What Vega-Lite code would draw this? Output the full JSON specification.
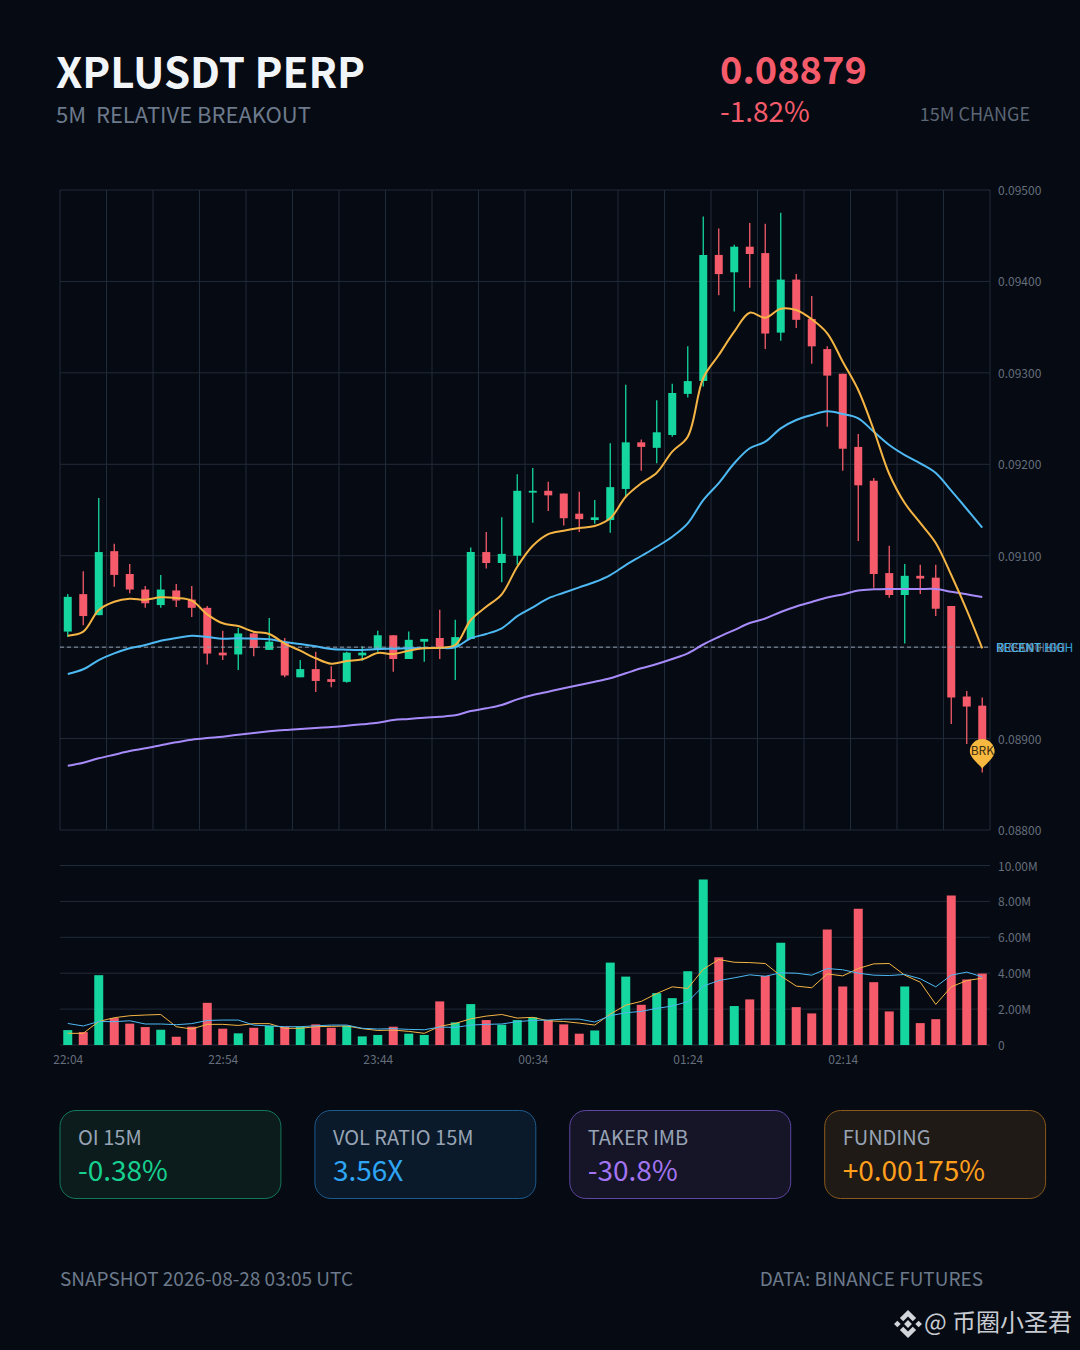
{
  "$schema": "https://vega.github.io/schema/vega-lite/v6.json",
  "description": "XPLUSDT perp 5m candles with moving averages, volume panel and metric cards",
  "width": 1080,
  "height": 1350,
  "autosize": "none",
  "padding": 0,
  "background": "#060a12",
  "config": {
    "view": {"stroke": null},
    "font": "Noto Sans CJK SC",
    "axis": {"labelFont": "Noto Sans CJK SC"},
    "text": {"font": "Noto Sans CJK SC"}
  },
  "datasets": {
    "bars": [
      {"time":"2026-08-27T22:04:00Z","open":0.09017,"high":0.09058,"low":0.09011,"close":0.09055,"volume":830000,"ma_fast":0.090125,"ma_mid":0.089706,"ma_slow":0.088703,"vol_fast":650000,"vol_slow":1200000},
      {"time":"2026-08-27T22:09:00Z","open":0.09058,"high":0.09083,"low":0.09024,"close":0.09034,"volume":720000,"ma_fast":0.090169,"ma_mid":0.089758,"ma_slow":0.088736,"vol_fast":650000,"vol_slow":1060000},
      {"time":"2026-08-27T22:14:00Z","open":0.09035,"high":0.09163,"low":0.09035,"close":0.09104,"volume":3890000,"ma_fast":0.090406,"ma_mid":0.089859,"ma_slow":0.088784,"vol_fast":1310000,"vol_slow":1310000},
      {"time":"2026-08-27T22:19:00Z","open":0.09105,"high":0.09113,"low":0.09066,"close":0.09079,"volume":1500000,"ma_fast":0.090497,"ma_mid":0.089932,"ma_slow":0.088824,"vol_fast":1520000,"vol_slow":1300000},
      {"time":"2026-08-27T22:24:00Z","open":0.0908,"high":0.09091,"low":0.09059,"close":0.09063,"volume":1190000,"ma_fast":0.09053,"ma_mid":0.089987,"ma_slow":0.088864,"vol_fast":1630000,"vol_slow":1350000},
      {"time":"2026-08-27T22:29:00Z","open":0.09063,"high":0.09067,"low":0.09043,"close":0.09048,"volume":1000000,"ma_fast":0.090519,"ma_mid":0.090023,"ma_slow":0.088893,"vol_fast":1670000,"vol_slow":1170000},
      {"time":"2026-08-27T22:34:00Z","open":0.09046,"high":0.09079,"low":0.09043,"close":0.09063,"volume":850000,"ma_fast":0.090545,"ma_mid":0.09007,"ma_slow":0.088926,"vol_fast":1700000,"vol_slow":1170000},
      {"time":"2026-08-27T22:39:00Z","open":0.09062,"high":0.09069,"low":0.09044,"close":0.09051,"volume":460000,"ma_fast":0.090537,"ma_mid":0.0901,"ma_slow":0.088959,"vol_fast":1020000,"vol_slow":1130000},
      {"time":"2026-08-27T22:44:00Z","open":0.09052,"high":0.09067,"low":0.09033,"close":0.09043,"volume":1020000,"ma_fast":0.090508,"ma_mid":0.090125,"ma_slow":0.088988,"vol_fast":890000,"vol_slow":1190000},
      {"time":"2026-08-27T22:49:00Z","open":0.09043,"high":0.09045,"low":0.08981,"close":0.08993,"volume":2350000,"ma_fast":0.090359,"ma_mid":0.090111,"ma_slow":0.089006,"vol_fast":1150000,"vol_slow":1370000},
      {"time":"2026-08-27T22:54:00Z","open":0.08994,"high":0.09018,"low":0.08986,"close":0.08991,"volume":910000,"ma_fast":0.090261,"ma_mid":0.090092,"ma_slow":0.08902,"vol_fast":1150000,"vol_slow":1390000},
      {"time":"2026-08-27T22:59:00Z","open":0.08992,"high":0.09021,"low":0.08975,"close":0.09015,"volume":650000,"ma_fast":0.090231,"ma_mid":0.090097,"ma_slow":0.089042,"vol_fast":1090000,"vol_slow":1390000},
      {"time":"2026-08-27T23:04:00Z","open":0.09015,"high":0.09016,"low":0.0899,"close":0.08999,"volume":960000,"ma_fast":0.090169,"ma_mid":0.090092,"ma_slow":0.089061,"vol_fast":1190000,"vol_slow":1110000},
      {"time":"2026-08-27T23:09:00Z","open":0.08997,"high":0.09032,"low":0.08997,"close":0.09006,"volume":1070000,"ma_fast":0.090144,"ma_mid":0.090086,"ma_slow":0.089079,"vol_fast":1190000,"vol_slow":1060000},
      {"time":"2026-08-27T23:14:00Z","open":0.09005,"high":0.0901,"low":0.08967,"close":0.08969,"volume":1020000,"ma_fast":0.090038,"ma_mid":0.090056,"ma_slow":0.089094,"vol_fast":930000,"vol_slow":1020000},
      {"time":"2026-08-27T23:19:00Z","open":0.08967,"high":0.08986,"low":0.08967,"close":0.08976,"volume":1020000,"ma_fast":0.089961,"ma_mid":0.090034,"ma_slow":0.089105,"vol_fast":930000,"vol_slow":1020000},
      {"time":"2026-08-27T23:24:00Z","open":0.08976,"high":0.08995,"low":0.08951,"close":0.08963,"volume":1150000,"ma_fast":0.089878,"ma_mid":0.090009,"ma_slow":0.089115,"vol_fast":1020000,"vol_slow":1070000},
      {"time":"2026-08-27T23:29:00Z","open":0.08965,"high":0.08979,"low":0.08956,"close":0.08962,"volume":960000,"ma_fast":0.089819,"ma_mid":0.08998,"ma_slow":0.089126,"vol_fast":1040000,"vol_slow":1110000},
      {"time":"2026-08-27T23:34:00Z","open":0.08962,"high":0.08995,"low":0.08961,"close":0.08994,"volume":1070000,"ma_fast":0.089848,"ma_mid":0.089972,"ma_slow":0.089141,"vol_fast":1060000,"vol_slow":1110000},
      {"time":"2026-08-27T23:39:00Z","open":0.08991,"high":0.09001,"low":0.08985,"close":0.08994,"volume":480000,"ma_fast":0.089867,"ma_mid":0.089969,"ma_slow":0.089156,"vol_fast":910000,"vol_slow":930000},
      {"time":"2026-08-27T23:44:00Z","open":0.08997,"high":0.09018,"low":0.08995,"close":0.09013,"volume":560000,"ma_fast":0.089936,"ma_mid":0.08998,"ma_slow":0.089173,"vol_fast":810000,"vol_slow":890000},
      {"time":"2026-08-27T23:49:00Z","open":0.09013,"high":0.09013,"low":0.08973,"close":0.08987,"volume":1020000,"ma_fast":0.089925,"ma_mid":0.089983,"ma_slow":0.089203,"vol_fast":830000,"vol_slow":910000},
      {"time":"2026-08-27T23:54:00Z","open":0.08987,"high":0.09017,"low":0.08987,"close":0.09008,"volume":630000,"ma_fast":0.089961,"ma_mid":0.089987,"ma_slow":0.089214,"vol_fast":760000,"vol_slow":870000},
      {"time":"2026-08-27T23:59:00Z","open":0.09006,"high":0.09009,"low":0.08984,"close":0.09009,"volume":560000,"ma_fast":0.089987,"ma_mid":0.08999,"ma_slow":0.089228,"vol_fast":650000,"vol_slow":850000},
      {"time":"2026-08-28T00:04:00Z","open":0.0901,"high":0.09041,"low":0.08987,"close":0.09,"volume":2430000,"ma_fast":0.089994,"ma_mid":0.08999,"ma_slow":0.089239,"vol_fast":1040000,"vol_slow":1000000},
      {"time":"2026-08-28T00:09:00Z","open":0.09,"high":0.0903,"low":0.08964,"close":0.09011,"volume":1260000,"ma_fast":0.090023,"ma_mid":0.089998,"ma_slow":0.089254,"vol_fast":1200000,"vol_slow":980000},
      {"time":"2026-08-28T00:14:00Z","open":0.09009,"high":0.09109,"low":0.09009,"close":0.09104,"volume":2280000,"ma_fast":0.090297,"ma_mid":0.090097,"ma_slow":0.089301,"vol_fast":1460000,"vol_slow":1110000},
      {"time":"2026-08-28T00:19:00Z","open":0.09104,"high":0.09126,"low":0.09086,"close":0.09092,"volume":1390000,"ma_fast":0.090442,"ma_mid":0.090144,"ma_slow":0.089331,"vol_fast":1610000,"vol_slow":1150000},
      {"time":"2026-08-28T00:24:00Z","open":0.09092,"high":0.09142,"low":0.09071,"close":0.09102,"volume":1130000,"ma_fast":0.090578,"ma_mid":0.090206,"ma_slow":0.089367,"vol_fast":1700000,"vol_slow":1170000},
      {"time":"2026-08-28T00:29:00Z","open":0.091,"high":0.09189,"low":0.0909,"close":0.09171,"volume":1390000,"ma_fast":0.09088,"ma_mid":0.09034,"ma_slow":0.089429,"vol_fast":1500000,"vol_slow":1300000},
      {"time":"2026-08-28T00:34:00Z","open":0.09169,"high":0.09196,"low":0.09136,"close":0.09171,"volume":1540000,"ma_fast":0.091109,"ma_mid":0.090436,"ma_slow":0.089476,"vol_fast":1540000,"vol_slow":1370000},
      {"time":"2026-08-28T00:39:00Z","open":0.09171,"high":0.09181,"low":0.09149,"close":0.09166,"volume":1390000,"ma_fast":0.091237,"ma_mid":0.090534,"ma_slow":0.089513,"vol_fast":1350000,"vol_slow":1390000},
      {"time":"2026-08-28T00:44:00Z","open":0.09168,"high":0.09168,"low":0.09133,"close":0.09141,"volume":1150000,"ma_fast":0.091274,"ma_mid":0.090595,"ma_slow":0.08955,"vol_fast":1310000,"vol_slow":1440000},
      {"time":"2026-08-28T00:49:00Z","open":0.09146,"high":0.0917,"low":0.09126,"close":0.0914,"volume":630000,"ma_fast":0.091303,"ma_mid":0.090654,"ma_slow":0.089586,"vol_fast":1220000,"vol_slow":1440000},
      {"time":"2026-08-28T00:54:00Z","open":0.09139,"high":0.09161,"low":0.09135,"close":0.09142,"volume":810000,"ma_fast":0.091325,"ma_mid":0.090712,"ma_slow":0.089622,"vol_fast":1110000,"vol_slow":1280000},
      {"time":"2026-08-28T00:59:00Z","open":0.09139,"high":0.09223,"low":0.09125,"close":0.09175,"volume":4590000,"ma_fast":0.091409,"ma_mid":0.090789,"ma_slow":0.089659,"vol_fast":1720000,"vol_slow":1630000},
      {"time":"2026-08-28T01:04:00Z","open":0.09173,"high":0.09287,"low":0.09165,"close":0.09224,"volume":3810000,"ma_fast":0.091645,"ma_mid":0.090898,"ma_slow":0.089714,"vol_fast":2220000,"vol_slow":1800000},
      {"time":"2026-08-28T01:09:00Z","open":0.09224,"high":0.09227,"low":0.09193,"close":0.09219,"volume":2240000,"ma_fast":0.091792,"ma_mid":0.090997,"ma_slow":0.089769,"vol_fast":2430000,"vol_slow":1870000},
      {"time":"2026-08-28T01:14:00Z","open":0.09218,"high":0.0927,"low":0.09201,"close":0.09235,"volume":2890000,"ma_fast":0.091908,"ma_mid":0.091098,"ma_slow":0.089815,"vol_fast":2870000,"vol_slow":2040000},
      {"time":"2026-08-28T01:19:00Z","open":0.09232,"high":0.09288,"low":0.0923,"close":0.09278,"volume":2610000,"ma_fast":0.092138,"ma_mid":0.091208,"ma_slow":0.08987,"vol_fast":3240000,"vol_slow":2170000},
      {"time":"2026-08-28T01:24:00Z","open":0.09277,"high":0.09329,"low":0.09273,"close":0.09291,"volume":4110000,"ma_fast":0.092302,"ma_mid":0.091354,"ma_slow":0.089932,"vol_fast":3150000,"vol_slow":2410000},
      {"time":"2026-08-28T01:29:00Z","open":0.09291,"high":0.09471,"low":0.09285,"close":0.09429,"volume":9220000,"ma_fast":0.092944,"ma_mid":0.091609,"ma_slow":0.090029,"vol_fast":4220000,"vol_slow":3280000},
      {"time":"2026-08-28T01:34:00Z","open":0.09429,"high":0.09458,"low":0.09385,"close":0.09408,"volume":4890000,"ma_fast":0.093195,"ma_mid":0.091795,"ma_slow":0.090111,"vol_fast":4760000,"vol_slow":3590000},
      {"time":"2026-08-28T01:39:00Z","open":0.0941,"high":0.0944,"low":0.09367,"close":0.09438,"volume":2170000,"ma_fast":0.09345,"ma_mid":0.092011,"ma_slow":0.090187,"vol_fast":4610000,"vol_slow":3740000},
      {"time":"2026-08-28T01:44:00Z","open":0.09438,"high":0.09464,"low":0.09393,"close":0.0943,"volume":2540000,"ma_fast":0.093658,"ma_mid":0.092175,"ma_slow":0.090264,"vol_fast":4590000,"vol_slow":3910000},
      {"time":"2026-08-28T01:49:00Z","open":0.09431,"high":0.09463,"low":0.09326,"close":0.09343,"volume":3850000,"ma_fast":0.093603,"ma_mid":0.092247,"ma_slow":0.090313,"vol_fast":4540000,"vol_slow":3830000},
      {"time":"2026-08-28T01:54:00Z","open":0.09344,"high":0.09475,"low":0.09335,"close":0.09402,"volume":5690000,"ma_fast":0.093702,"ma_mid":0.092393,"ma_slow":0.090384,"vol_fast":3850000,"vol_slow":4020000},
      {"time":"2026-08-28T01:59:00Z","open":0.09402,"high":0.09408,"low":0.09349,"close":0.09358,"volume":2110000,"ma_fast":0.093687,"ma_mid":0.092484,"ma_slow":0.090444,"vol_fast":3280000,"vol_slow":4000000},
      {"time":"2026-08-28T02:04:00Z","open":0.09359,"high":0.09384,"low":0.0931,"close":0.09329,"volume":1760000,"ma_fast":0.093586,"ma_mid":0.092539,"ma_slow":0.090494,"vol_fast":3190000,"vol_slow":3890000},
      {"time":"2026-08-28T02:09:00Z","open":0.09326,"high":0.09329,"low":0.09241,"close":0.09297,"volume":6430000,"ma_fast":0.093433,"ma_mid":0.092579,"ma_slow":0.090543,"vol_fast":3960000,"vol_slow":4260000},
      {"time":"2026-08-28T02:14:00Z","open":0.09299,"high":0.09299,"low":0.09193,"close":0.09217,"volume":3260000,"ma_fast":0.093122,"ma_mid":0.09255,"ma_slow":0.090576,"vol_fast":3850000,"vol_slow":4190000},
      {"time":"2026-08-28T02:19:00Z","open":0.09219,"high":0.09233,"low":0.09116,"close":0.09177,"volume":7590000,"ma_fast":0.092812,"ma_mid":0.092503,"ma_slow":0.090619,"vol_fast":4260000,"vol_slow":4000000},
      {"time":"2026-08-28T02:24:00Z","open":0.09182,"high":0.09185,"low":0.09065,"close":0.0908,"volume":3500000,"ma_fast":0.092375,"ma_mid":0.092356,"ma_slow":0.090632,"vol_fast":4520000,"vol_slow":3890000},
      {"time":"2026-08-28T02:29:00Z","open":0.09081,"high":0.09111,"low":0.09054,"close":0.09057,"volume":1870000,"ma_fast":0.091894,"ma_mid":0.092211,"ma_slow":0.090636,"vol_fast":4540000,"vol_slow":3870000},
      {"time":"2026-08-28T02:34:00Z","open":0.09057,"high":0.09091,"low":0.09004,"close":0.09078,"volume":3260000,"ma_fast":0.091576,"ma_mid":0.092101,"ma_slow":0.090636,"vol_fast":3890000,"vol_slow":3930000},
      {"time":"2026-08-28T02:39:00Z","open":0.09078,"high":0.0909,"low":0.09058,"close":0.09075,"volume":1220000,"ma_fast":0.091358,"ma_mid":0.092011,"ma_slow":0.090636,"vol_fast":3500000,"vol_slow":3690000},
      {"time":"2026-08-28T02:44:00Z","open":0.09076,"high":0.0909,"low":0.09034,"close":0.09042,"volume":1440000,"ma_fast":0.091139,"ma_mid":0.091905,"ma_slow":0.090636,"vol_fast":2260000,"vol_slow":3240000},
      {"time":"2026-08-28T02:49:00Z","open":0.09045,"high":0.09045,"low":0.08916,"close":0.08945,"volume":8330000,"ma_fast":0.090789,"ma_mid":0.091711,"ma_slow":0.090606,"vol_fast":3240000,"vol_slow":3890000},
      {"time":"2026-08-28T02:54:00Z","open":0.08946,"high":0.08952,"low":0.08894,"close":0.08935,"volume":3650000,"ma_fast":0.090406,"ma_mid":0.091511,"ma_slow":0.090578,"vol_fast":3590000,"vol_slow":4060000},
      {"time":"2026-08-28T02:59:00Z","open":0.08936,"high":0.08945,"low":0.08863,"close":0.08879,"volume":3980000,"ma_fast":0.089987,"ma_mid":0.091306,"ma_slow":0.090548,"vol_fast":3720000,"vol_slow":3800000}
    ],
    "gridTimes": [
      {"time":"2026-08-27T22:01:30Z","low":0.088,"high":0.095},{"time":"2026-08-27T22:16:30Z","low":0.088,"high":0.095},{"time":"2026-08-27T22:31:30Z","low":0.088,"high":0.095},
      {"time":"2026-08-27T22:46:30Z","low":0.088,"high":0.095},{"time":"2026-08-27T23:01:30Z","low":0.088,"high":0.095},{"time":"2026-08-27T23:16:30Z","low":0.088,"high":0.095},
      {"time":"2026-08-27T23:31:30Z","low":0.088,"high":0.095},{"time":"2026-08-27T23:46:30Z","low":0.088,"high":0.095},{"time":"2026-08-28T00:01:30Z","low":0.088,"high":0.095},
      {"time":"2026-08-28T00:16:30Z","low":0.088,"high":0.095},{"time":"2026-08-28T00:31:30Z","low":0.088,"high":0.095},{"time":"2026-08-28T00:46:30Z","low":0.088,"high":0.095},
      {"time":"2026-08-28T01:01:30Z","low":0.088,"high":0.095},{"time":"2026-08-28T01:16:30Z","low":0.088,"high":0.095},{"time":"2026-08-28T01:31:30Z","low":0.088,"high":0.095},
      {"time":"2026-08-28T01:46:30Z","low":0.088,"high":0.095},{"time":"2026-08-28T02:01:30Z","low":0.088,"high":0.095},{"time":"2026-08-28T02:16:30Z","low":0.088,"high":0.095},
      {"time":"2026-08-28T02:31:30Z","low":0.088,"high":0.095},{"time":"2026-08-28T02:46:30Z","low":0.088,"high":0.095},{"time":"2026-08-28T03:01:30Z","low":0.088,"high":0.095}
    ],
    "cards": [
      {"metric":"OI 15M","reading":"-0.38%","panel":"cards"},
      {"metric":"VOL RATIO 15M","reading":"3.56X","panel":"cards"},
      {"metric":"TAKER IMB","reading":"-30.8%","panel":"cards"},
      {"metric":"FUNDING","reading":"+0.00175%","panel":"cards"}
    ]
  },
  "resolve": {
    "scale": {"x": "independent", "y": "independent", "color": "independent", "fill": "independent", "stroke": "independent"},
    "axis": {"x": "independent", "y": "independent"}
  },
  "layer": [
    {
      "encoding": {
        "x": {"field": "time", "type": "temporal", "axis": null,
              "scale": {"type": "utc", "nice": false, "padding": 0, "domain": ["2026-08-27T22:01:30Z", "2026-08-28T03:01:30Z"], "range": [60, 990]}}
      },
      "layer": [
        {
          "data": {"values": [
            {"level":0.088,"time":"2026-08-27T22:01:30Z","end":"2026-08-28T03:01:30Z"},
            {"level":0.089,"time":"2026-08-27T22:01:30Z","end":"2026-08-28T03:01:30Z"},
            {"level":0.09,"time":"2026-08-27T22:01:30Z","end":"2026-08-28T03:01:30Z"},
            {"level":0.091,"time":"2026-08-27T22:01:30Z","end":"2026-08-28T03:01:30Z"},
            {"level":0.092,"time":"2026-08-27T22:01:30Z","end":"2026-08-28T03:01:30Z"},
            {"level":0.093,"time":"2026-08-27T22:01:30Z","end":"2026-08-28T03:01:30Z"},
            {"level":0.094,"time":"2026-08-27T22:01:30Z","end":"2026-08-28T03:01:30Z"},
            {"level":0.095,"time":"2026-08-27T22:01:30Z","end":"2026-08-28T03:01:30Z"}
          ], "format": {"parse": {"time": "date", "end": "date"}}},
          "mark": {"type": "rule", "color": "#202b39", "strokeWidth": 1},
          "encoding": {
            "y": {"field": "level", "type": "quantitative", "axis": null,
                  "scale": {"nice": false, "domain": [0.088, 0.095], "range": [830, 190]}},
            "x2": {"field": "end"}
          }
        },
        {
          "data": {"name": "gridTimes"},
          "mark": {"type": "rule", "color": "#202b39", "strokeWidth": 1},
          "encoding": {
            "y": {"field": "low", "type": "quantitative", "axis": null},
            "y2": {"field": "high"}
          }
        },
        {
          "data": {"values": [
            {"level":0.088,"time":"2026-08-28T03:01:30Z"},
            {"level":0.089,"time":"2026-08-28T03:01:30Z"},
            {"level":0.09,"time":"2026-08-28T03:01:30Z"},
            {"level":0.091,"time":"2026-08-28T03:01:30Z"},
            {"level":0.092,"time":"2026-08-28T03:01:30Z"},
            {"level":0.093,"time":"2026-08-28T03:01:30Z"},
            {"level":0.094,"time":"2026-08-28T03:01:30Z"},
            {"level":0.095,"time":"2026-08-28T03:01:30Z"}
          ]},
          "mark": {"type": "text", "align": "left", "baseline": "middle", "dx": 8, "dy": 1, "fontSize": 12, "color": "#646e7c"},
          "encoding": {
            "y": {"field": "level", "type": "quantitative", "axis": null},
            "text": {"field": "level", "type": "quantitative", "format": ".5f"}
          }
        },
        {
          "data": {"name": "bars"},
          "mark": {"type": "rule", "strokeWidth": 1.3},
          "encoding": {
            "y": {"field": "low", "type": "quantitative", "axis": null},
            "y2": {"field": "high"},
            "color": {"condition": {"test": "datum.close >= datum.open", "value": "#16d6a0"}, "value": "#f55b6a"}
          }
        },
        {
          "data": {"name": "bars"},
          "mark": {"type": "bar", "width": 8},
          "encoding": {
            "y": {"field": "open", "type": "quantitative", "axis": null},
            "y2": {"field": "close"},
            "color": {"condition": {"test": "datum.close >= datum.open", "value": "#16d6a0"}, "value": "#f55b6a"}
          }
        },
        {
          "data": {"values": [{"level":0.09,"time":"2026-08-27T22:01:30Z","end":"2026-08-28T03:01:30Z"}],
                   "format": {"parse": {"time": "date", "end": "date"}}},
          "mark": {"type": "rule", "color": "#939dab", "strokeWidth": 1, "strokeDash": [4, 3]},
          "encoding": {
            "y": {"field": "level", "type": "quantitative", "axis": null},
            "x2": {"field": "end"}
          }
        },
        {
          "data": {"name": "bars"},
          "mark": {"type": "line", "color": "#a78bfa", "strokeWidth": 2, "interpolate": "catmull-rom"},
          "encoding": {"y": {"field": "ma_slow", "type": "quantitative", "axis": null}}
        },
        {
          "data": {"name": "bars"},
          "mark": {"type": "line", "color": "#4db8f2", "strokeWidth": 2, "interpolate": "catmull-rom"},
          "encoding": {"y": {"field": "ma_mid", "type": "quantitative", "axis": null}}
        },
        {
          "data": {"name": "bars"},
          "mark": {"type": "line", "color": "#f5b544", "strokeWidth": 2, "interpolate": "catmull-rom"},
          "encoding": {"y": {"field": "ma_fast", "type": "quantitative", "axis": null}}
        },
        {
          "data": {"values": [
            {"level":0.09,"time":"2026-08-28T03:01:30Z","label":"RECENT 100"},
            {"level":0.09,"time":"2026-08-28T03:01:30Z","label":"BREAK HIGH"},
            {"level":0.09,"time":"2026-08-28T03:01:30Z","label":"RECENT HIGH"}
          ]},
          "mark": {"type": "text", "align": "left", "baseline": "middle", "dx": 6, "dy": 1, "fontSize": 12, "opacity": 0.85},
          "encoding": {
            "y": {"field": "level", "type": "quantitative", "axis": null},
            "text": {"field": "label"},
            "color": {"field": "label", "type": "nominal", "legend": null,
                      "scale": {"domain": ["RECENT 100", "BREAK HIGH", "RECENT HIGH"], "range": ["#8791a1", "#6f86a0", "#38bdf8"]}}
          }
        },
        {
          "data": {"values": [{"time":"2026-08-28T02:59:00Z","price":0.08886,"label":"BRK"}]},
          "mark": {"type": "point", "filled": true, "opacity": 1, "color": "#f7b83f", "size": 1600,
                   "shape": "M0,0.87 C-0.1,0.68 -0.62,0.35 -0.62,0 A0.62,0.62 0 1 1 0.62,0 C0.62,0.35 0.1,0.68 0,0.87 Z"},
          "encoding": {"y": {"field": "price", "type": "quantitative", "axis": null}}
        },
        {
          "data": {"values": [{"time":"2026-08-28T02:59:00Z","price":0.08886,"label":"BRK"}]},
          "mark": {"type": "text", "baseline": "middle", "fontSize": 12, "color": "#3a2c10"},
          "encoding": {
            "y": {"field": "price", "type": "quantitative", "axis": null},
            "text": {"field": "label"}
          }
        }
      ]
    },
    {
      "encoding": {
        "x": {"field": "time", "type": "temporal",
              "scale": {"type": "utc", "nice": false, "padding": 0, "domain": ["2026-08-27T22:01:30Z", "2026-08-28T03:01:30Z"], "range": [60, 990]},
              "axis": {"title": null, "orient": "bottom", "offset": -305, "grid": false, "domain": false, "ticks": false, "labelPadding": 9,
                       "values": ["2026-08-27T22:04:00Z", "2026-08-27T22:54:00Z", "2026-08-27T23:44:00Z", "2026-08-28T00:34:00Z", "2026-08-28T01:24:00Z", "2026-08-28T02:14:00Z"],
                       "format": "%H:%M", "labelColor": "#646e7c", "labelFontSize": 12, "labelOverlap": false}}
      },
      "layer": [
        {
          "data": {"values": [
            {"level":0,"time":"2026-08-27T22:01:30Z","end":"2026-08-28T03:01:30Z"},
            {"level":2000000,"time":"2026-08-27T22:01:30Z","end":"2026-08-28T03:01:30Z"},
            {"level":4000000,"time":"2026-08-27T22:01:30Z","end":"2026-08-28T03:01:30Z"},
            {"level":6000000,"time":"2026-08-27T22:01:30Z","end":"2026-08-28T03:01:30Z"},
            {"level":8000000,"time":"2026-08-27T22:01:30Z","end":"2026-08-28T03:01:30Z"},
            {"level":10000000,"time":"2026-08-27T22:01:30Z","end":"2026-08-28T03:01:30Z"}
          ], "format": {"parse": {"time": "date", "end": "date"}}},
          "mark": {"type": "rule", "color": "#202b39", "strokeWidth": 1},
          "encoding": {
            "y": {"field": "level", "type": "quantitative", "axis": null,
                  "scale": {"nice": false, "domain": [0, 10000000], "range": [1045, 865.5]}},
            "x2": {"field": "end"}
          }
        },
        {
          "data": {"values": [
            {"level":0,"time":"2026-08-28T03:01:30Z","label":"0"},
            {"level":2000000,"time":"2026-08-28T03:01:30Z","label":"2.00M"},
            {"level":4000000,"time":"2026-08-28T03:01:30Z","label":"4.00M"},
            {"level":6000000,"time":"2026-08-28T03:01:30Z","label":"6.00M"},
            {"level":8000000,"time":"2026-08-28T03:01:30Z","label":"8.00M"},
            {"level":10000000,"time":"2026-08-28T03:01:30Z","label":"10.00M"}
          ]},
          "mark": {"type": "text", "align": "left", "baseline": "middle", "dx": 8, "dy": 1, "fontSize": 12, "color": "#646e7c"},
          "encoding": {
            "y": {"field": "level", "type": "quantitative", "axis": null},
            "text": {"field": "label"}
          }
        },
        {
          "data": {"name": "bars"},
          "mark": {"type": "bar", "width": 9},
          "encoding": {
            "y": {"field": "volume", "type": "quantitative", "axis": null},
            "color": {"condition": {"test": "datum.close >= datum.open", "value": "#16d6a0"}, "value": "#f55b6a"}
          }
        },
        {
          "data": {"name": "bars"},
          "mark": {"type": "line", "color": "#f5b544", "strokeWidth": 1},
          "encoding": {"y": {"field": "vol_fast", "type": "quantitative", "axis": null}}
        },
        {
          "data": {"name": "bars"},
          "mark": {"type": "line", "color": "#4db8f2", "strokeWidth": 1},
          "encoding": {"y": {"field": "vol_slow", "type": "quantitative", "axis": null}}
        }
      ]
    },
    {
      "encoding": {
        "x": {"field": "column", "type": "nominal", "axis": null,
              "scale": {"type": "point", "padding": 0, "domain": ["symbol", "quote"], "range": [56, 720]}},
        "y": {"field": "line", "type": "nominal", "axis": null,
              "scale": {"type": "point", "padding": 0, "domain": ["main", "sub"], "range": [75, 116]}},
        "text": {"field": "label"}
      },
      "layer": [
        {
          "data": {"values": [{"column":"symbol","line":"main","label":"XPLUSDT PERP"}]},
          "mark": {"type": "text", "align": "left", "baseline": "middle", "fontSize": 42, "fontWeight": 700, "color": "#f2f5f8"}
        },
        {
          "data": {"values": [{"column":"symbol","line":"sub","label":"5M\u00a0 RELATIVE BREAKOUT"}]},
          "mark": {"type": "text", "align": "left", "baseline": "middle", "fontSize": 22, "color": "#6c7a8c"}
        },
        {
          "data": {"values": [{"column":"quote","line":"main","label":"0.08879"}]},
          "mark": {"type": "text", "align": "left", "baseline": "middle", "fontSize": 38, "fontWeight": 700, "color": "#f55b6a", "dy": -2}
        },
        {
          "data": {"values": [{"column":"quote","line":"sub","label":"-1.82%"}]},
          "mark": {"type": "text", "align": "left", "baseline": "middle", "fontSize": 28, "color": "#f55b6a", "dy": -2}
        },
        {
          "data": {"values": [{"column":"quote","line":"sub","label":"15M CHANGE"}]},
          "mark": {"type": "text", "align": "right", "baseline": "middle", "fontSize": 18, "color": "#5c6675", "dx": 310}
        }
      ]
    },
    {
      "data": {"name": "cards"},
      "encoding": {
        "x": {"field": "metric", "type": "nominal", "axis": null,
              "scale": {"type": "band", "domain": ["OI 15M", "VOL RATIO 15M", "TAKER IMB", "FUNDING"], "range": [60, 1045.6], "paddingInner": 0.13333, "paddingOuter": 0}},
        "y": {"field": "panel", "type": "nominal", "axis": null,
              "scale": {"type": "band", "domain": ["cards"], "range": [1110.5, 1198.5], "paddingInner": 0, "paddingOuter": 0}}
      },
      "layer": [
        {
          "mark": {"type": "rect", "cornerRadius": 16, "strokeWidth": 1},
          "encoding": {
            "fill": {"field": "metric", "type": "nominal", "legend": null,
                     "scale": {"domain": ["OI 15M", "VOL RATIO 15M", "TAKER IMB", "FUNDING"], "range": ["#0c1c1d", "#0a1a2a", "#151527", "#1f1a16"]}},
            "stroke": {"field": "metric", "type": "nominal", "legend": null,
                       "scale": {"domain": ["OI 15M", "VOL RATIO 15M", "TAKER IMB", "FUNDING"], "range": ["#13795c", "#1d5b8f", "#5f46a3", "#8a5a1c"]}}
          }
        },
        {
          "mark": {"type": "text", "align": "left", "baseline": "middle", "fontSize": 20, "color": "#98a4b5", "dx": 18, "dy": 28},
          "encoding": {
            "x": {"field": "metric", "type": "nominal", "bandPosition": 0, "axis": null},
            "y": {"field": "panel", "type": "nominal", "bandPosition": 0, "axis": null},
            "text": {"field": "metric"}
          }
        },
        {
          "mark": {"type": "text", "align": "left", "baseline": "middle", "fontSize": 28, "dx": 18, "dy": 62},
          "encoding": {
            "x": {"field": "metric", "type": "nominal", "bandPosition": 0, "axis": null},
            "y": {"field": "panel", "type": "nominal", "bandPosition": 0, "axis": null},
            "text": {"field": "reading"},
            "color": {"field": "metric", "type": "nominal", "legend": null,
                      "scale": {"domain": ["OI 15M", "VOL RATIO 15M", "TAKER IMB", "FUNDING"], "range": ["#16d18f", "#2ea6f5", "#a274f2", "#ff9f1c"]}}
          }
        }
      ]
    },
    {
      "encoding": {
        "x": {"field": "column", "type": "nominal", "axis": null,
              "scale": {"type": "point", "padding": 0, "domain": ["snapshot", "source"], "range": [60, 983]}},
        "y": {"field": "line", "type": "nominal", "axis": null,
              "scale": {"type": "point", "padding": 0, "domain": ["footer", "unused"], "range": [1280, 1400]}},
        "text": {"field": "label"}
      },
      "layer": [
        {
          "data": {"values": [{"column":"snapshot","line":"footer","label":"SNAPSHOT 2026-08-28 03:05 UTC"}]},
          "mark": {"type": "text", "align": "left", "baseline": "middle", "fontSize": 19, "color": "#6c7a8c"}
        },
        {
          "data": {"values": [{"column":"source","line":"footer","label":"DATA: BINANCE FUTURES"}]},
          "mark": {"type": "text", "align": "right", "baseline": "middle", "fontSize": 19, "color": "#6c7a8c"}
        }
      ]
    },
    {
      "encoding": {
        "x": {"field": "column", "type": "nominal", "axis": null,
              "scale": {"type": "point", "padding": 0, "domain": ["logo", "handle"], "range": [908, 1072]}},
        "y": {"field": "line", "type": "nominal", "axis": null,
              "scale": {"type": "point", "padding": 0, "domain": ["mark", "unused"], "range": [1324, 1400]}}
      },
      "layer": [
        {
          "data": {"values": [{"column":"logo","line":"mark"}]},
          "mark": {"type": "point", "filled": true, "opacity": 1, "color": "#d2d6db", "size": 784, "strokeWidth": 0,
                   "shape": "M0,-0.28 L0.28,0 L0,0.28 L-0.28,0 Z M-0.76,-0.24 L-0.52,0 L-0.76,0.24 L-1,0 Z M0.76,-0.24 L1,0 L0.76,0.24 L0.52,0 Z M0,-1 L0.58,-0.42 L0.34,-0.2 L0,-0.54 L-0.34,-0.2 L-0.58,-0.42 Z M0,1 L0.58,0.42 L0.34,0.2 L0,0.54 L-0.34,0.2 L-0.58,0.42 Z"}
        },
        {
          "data": {"values": [{"column":"handle","line":"mark","label":"@ 币圈小圣君"}]},
          "mark": {"type": "text", "align": "right", "baseline": "middle", "fontSize": 24, "color": "#c8ccd2"},
          "encoding": {"text": {"field": "label"}}
        }
      ]
    }
  ]
}
